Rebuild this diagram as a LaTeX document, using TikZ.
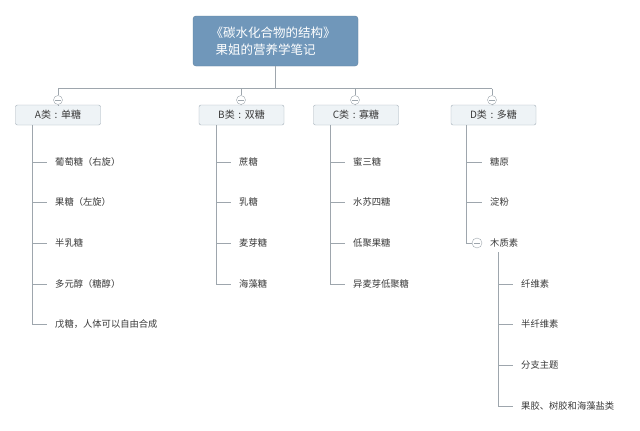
\documentclass[tikz,border=0pt]{standalone}
\usepackage{fontspec}
\setmainfont{Noto Sans CJK SC}
\definecolor{rootblue}{HTML}{7097BA}
\definecolor{catfill}{HTML}{EEF3F6}
\definecolor{catline}{HTML}{A3AEB8}
\definecolor{linegray}{HTML}{9EA6AD}
\definecolor{txt}{HTML}{3A3A3A}
\newcommand{\ccolon}{\makebox[1em]{:}}
\tikzset{
  rootbox/.style={draw=rootblue!85!black, fill=rootblue, rounded corners=3pt, minimum width=165pt, minimum height=50pt, text=white, font=\fontsize{12.5}{16.5}\selectfont, align=left, inner sep=0pt},
  catbox/.style={draw=catline, fill=catfill, rounded corners=2pt, minimum width=85pt, minimum height=20pt, text=txt, font=\fontsize{10}{12}\selectfont, inner sep=0pt},
  item/.style={anchor=west, inner xsep=8pt, inner ysep=1pt, text=txt, font=\fontsize{9.3}{11}\selectfont},
  toggle/.style={circle, draw=linegray, fill=white, minimum size=9pt, inner sep=0pt, path picture={\draw[linegray] ([xshift=-2.6pt]path picture bounding box.center) -- ([xshift=2.6pt]path picture bounding box.center);}},
  conn/.style={draw=linegray, line width=0.6pt}
}
\begin{document}
\begin{tikzpicture}[x=1pt,y=-1pt]
\useasboundingbox (0,0) rectangle (640,431);
\fill[white] (0,0) rectangle (640,431);

\node[rootbox] (root) at (275.5,41) {\hspace{-0.4em}《碳水化合物的结构》\\果姐的营养学笔记};

\coordinate (bus) at (275,88.5);
\coordinate (jA) at (58,88.5);
\coordinate (jB) at (241,88.5);
\coordinate (jC) at (355,88.5);
\coordinate (jD) at (492,88.5);

\node[catbox] (A) at (58,115) {A类\ccolon 单糖};
\node[catbox] (B) at (241.5,115) {B类\ccolon 双糖};
\node[catbox] (C) at (356,115) {C类\ccolon 寡糖};
\node[catbox] (D) at (493.5,115) {D类\ccolon 多糖};

\node[toggle] (tA) at (58,100) {};
\node[toggle] (tB) at (241,100) {};
\node[toggle] (tC) at (355,100) {};
\node[toggle] (tD) at (492,100) {};

\draw[conn] (root.south -| bus) -- (bus);
\draw[conn] (jA) -- (jD);
\foreach \n in {A,B,C,D}{
  \draw[conn] (j\n) -- (t\n.north);
  \draw[conn] (t\n.south) -- (\n.north);
}

% A items
\coordinate (aTop) at (32,125);
\node[item] (a1) at (47,162) {葡萄糖（右旋）};
\node[item] (a2) at (47,202) {果糖（左旋）};
\node[item] (a3) at (47,243) {半乳糖};
\node[item] (a4) at (47,284) {多元醇（糖醇）};
\node[item] (a5) at (47,324) {戊糖，人体可以自由合成};
\draw[conn] (aTop) |- (a5.west);
\foreach \i in {1,...,4}{\draw[conn] (a\i.west -| aTop) -- (a\i.west);}

% B items
\coordinate (bTop) at (216,125);
\node[item] (b1) at (231,162) {蔗糖};
\node[item] (b2) at (231,202) {乳糖};
\node[item] (b3) at (231,243) {麦芽糖};
\node[item] (b4) at (231,284) {海藻糖};
\draw[conn] (bTop) |- (b4.west);
\foreach \i in {1,...,3}{\draw[conn] (b\i.west -| bTop) -- (b\i.west);}

% C items
\coordinate (cTop) at (330,125);
\node[item] (c1) at (345,162) {蜜三糖};
\node[item] (c2) at (345,202) {水苏四糖};
\node[item] (c3) at (345,243) {低聚果糖};
\node[item] (c4) at (345,284) {异麦芽低聚糖};
\draw[conn] (cTop) |- (c4.west);
\foreach \i in {1,...,3}{\draw[conn] (c\i.west -| cTop) -- (c\i.west);}

% D items
\coordinate (dTop) at (466,125);
\node[item] (d1) at (482,162) {糖原};
\node[item] (d2) at (482,202) {淀粉};
\node[toggle, minimum size=10pt] (tm) at (477,243) {};
\node[item, inner xsep=0pt] (d3) at (490,243) {木质素};
\draw[conn] (dTop) |- (tm.west);
\foreach \i in {1,2}{\draw[conn] (d\i.west -| dTop) -- (d\i.west);}

% sub items of 木质素
\coordinate (mTop) at (498,252);
\node[item] (m1) at (513,284) {纤维素};
\node[item] (m2) at (513,324) {半纤维素};
\node[item] (m3) at (513,365) {分支主题};
\node[item] (m4) at (513,406) {果胶、树胶和海藻盐类};
\draw[conn] (mTop) |- (m4.west);
\foreach \i in {1,...,3}{\draw[conn] (m\i.west -| mTop) -- (m\i.west);}
\end{tikzpicture}
\end{document}
